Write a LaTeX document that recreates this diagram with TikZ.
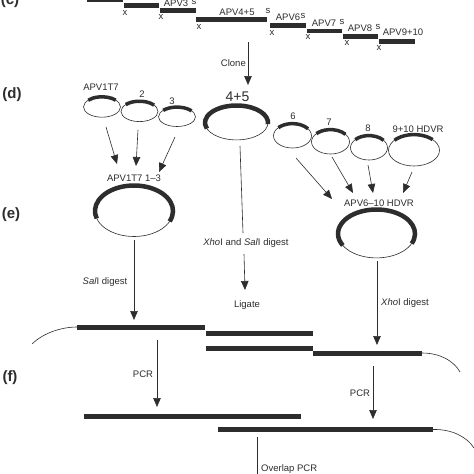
\documentclass[tikz,border=0pt]{standalone}
\usepackage{fontspec}
\setmainfont{Liberation Sans}
\usetikzlibrary{arrows.meta,shapes.geometric}
\definecolor{ink}{RGB}{45,45,45}
\tikzset{
 lab/.style={font=\fontsize{9.5}{11}\selectfont, inner sep=0pt, text=ink},
 biglab/.style={font=\fontsize{14}{16}\selectfont, inner sep=0pt, text=ink},
 panel/.style={font=\fontsize{15}{17}\selectfont\bfseries, inner sep=0pt, text=ink},
 bar/.style={fill=ink, inner sep=0pt, outer sep=0pt, minimum height=4.7pt, draw=none},
 plas/.style={ellipse, draw=ink, line width=0.6pt, inner sep=0pt, outer sep=0pt},
 conn/.style={draw=ink, line width=0.6pt},
 arr/.style={conn, -{Triangle[length=9pt,width=7.5pt]}},
}
\newcommand\myplasmid[8]{%
  \node[plas, minimum width=#4*2pt, minimum height=#5*2pt] (#1) at (#2,#3) {};
  \draw[ink, line width=#8pt] (#1.center) ++(#6:#4pt and #5pt) arc[start angle=#6, end angle=#7, x radius=#4pt, y radius=#5pt];
}
\begin{document}
\begin{tikzpicture}[x=1pt,y=-1pt]
\useasboundingbox (0,0) rectangle (474,474);
\clip (0,0) rectangle (474,474);
\fill[white] (0,0) rectangle (474,474);

% panel labels
\node[panel] (lc) at (10,1) {(c)};
\node[panel] (ld) at (12,95) {(d)};
\node[panel] (le) at (11,215) {(e)};
\node[panel] (lf) at (10,378) {(f)};

% (c) fragments
\node[bar, minimum width=36pt] (bA) at (105,-0.5) {};
\node[bar, minimum width=35pt] (bB) at (141.5,5.7) {};
\node[bar, minimum width=36pt] (bC) at (178,10.3) {};
\node[bar, minimum width=71pt] (bD) at (231.5,19.7) {};
\node[bar, minimum width=36pt] (bE) at (288,25.7) {};
\node[bar, minimum width=35pt] (bF) at (324.5,31) {};
\node[bar, minimum width=35pt] (bG) at (360.5,36.3) {};
\node[bar, minimum width=36pt] (bH) at (397,41.5) {};

\node[lab] (tC) at (176,3) {APV3};
\node[lab] (sC) at (194,2) {s};
\node[lab] (tD) at (237,12) {APV4+5};
\node[lab] (sD) at (268,11) {s};
\node[lab] (tE) at (288,17) {APV6};
\node[lab] (sE) at (303,16) {s};
\node[lab] (tF) at (324,23) {APV7};
\node[lab] (sF) at (342,22) {s};
\node[lab] (tG) at (360,28) {APV8};
\node[lab] (sG) at (378,27) {s};
\node[lab] (tH) at (403,32) {APV9+10};

\node[lab] (x1) at (125,12.5) {x};
\node[lab] (x2) at (161,16.5) {x};
\node[lab] (x3) at (199,27) {x};
\node[lab] (x4) at (272,33) {x};
\node[lab] (x5) at (308,37) {x};
\node[lab] (x6) at (347,43) {x};
\node[lab] (x7) at (379,48) {x};

% clone arrow
\coordinate (cl1) at (248,42);
\coordinate (cl2) at (248,85);
\draw[arr] (cl1) -- (cl2);
\node[lab, anchor=east] (tClone) at (246,63) {Clone};

% (d) plasmids
\myplasmid{p1}{102}{107}{18.5}{10.2}{42}{138}{3.5}
\myplasmid{p2}{139.5}{111.4}{18.5}{10.2}{38}{138}{3.5}
\myplasmid{p3}{177}{116.8}{18.5}{9.7}{38}{138}{3.5}
\myplasmid{p45}{236.5}{122.7}{31.5}{17.2}{-5}{200}{4.5}
\myplasmid{p6}{292.5}{135.8}{19}{12.2}{35}{138}{3.5}
\myplasmid{p7}{330.5}{141.8}{19}{12.2}{38}{138}{3.5}
\myplasmid{p8}{369}{147.8}{18.5}{12.2}{38}{138}{3.5}
\myplasmid{p910}{414}{150.3}{25.5}{15.7}{43}{140}{3.5}

\node[lab] (tp1) at (101,87) {APV1T7};
\node[lab] (tp2) at (142,94) {2};
\node[lab] (tp3) at (172,101) {3};
\node[biglab] (tp45) at (237.5,97) {4+5};
\node[lab] (tp6) at (293,116) {6};
\node[lab] (tp7) at (329,122) {7};
\node[lab] (tp8) at (368,128) {8};
\node[lab] (tp910) at (418,129) {9+10 HDVR};

% (e) combined plasmids
\myplasmid{pL}{134}{211}{39}{25.5}{-24}{197}{4.5}
\myplasmid{pR}{376.5}{233.7}{38.5}{24.2}{-24}{209}{4.5}
\node[lab] (tpL) at (134,178) {APV1T7 1--3};
\node[lab] (tpR) at (379,203) {APV6--10 HDVR};

% arrows into combined plasmids
\coordinate (a1s) at (106,127); \coordinate (a1e) at (117,164);
\coordinate (a2s) at (138,130); \coordinate (a2e) at (136,166);
\coordinate (a3s) at (175,137); \coordinate (a3e) at (159,172);
\draw[arr] (a1s) -- (a1e);
\draw[arr] (a2s) -- (a2e);
\draw[arr] (a3s) -- (a3e);
\coordinate (b1s) at (296,158); \coordinate (b1e) at (332,199);
\coordinate (b2s) at (332,157); \coordinate (b2e) at (353,193);
\coordinate (b3s) at (368,165); \coordinate (b3e) at (373,193);
\coordinate (b4s) at (412,172); \coordinate (b4e) at (403,193);
\draw[arr] (b1s) -- (b1e);
\draw[arr] (b2s) -- (b2e);
\draw[arr] (b3s) -- (b3e);
\draw[arr] (b4s) -- (b4e);

% 4+5 digest and ligate
\coordinate (m1) at (240,146);
\coordinate (m2) at (243,233);
\coordinate (m3) at (244,254);
\coordinate (m4) at (245,290);
\draw[conn] (m1) -- (m2);
\draw[arr] (m3) -- (m4);
\node[lab] (tXS) at (246,243) {\textit{Xho}I and \textit{Sal}I digest};
\node[lab] (tLig) at (247,305) {Ligate};

% SalI digest
\coordinate (s1) at (134,240);
\coordinate (s2) at (134,320);
\draw[arr] (s1) -- (s2);
\node[lab] (tSal) at (105,282) {\textit{Sal}I digest};

% XhoI digest
\coordinate (h1) at (377,261);
\coordinate (h2) at (377,345);
\draw[arr] (h1) -- (h2);
\node[lab] (tXho) at (405,303) {\textit{Xho}I digest};

% (f) fragments
\node[bar, minimum width=128pt, minimum height=5pt] (fL) at (141,327) {};
\node[bar, minimum width=107pt, minimum height=5pt] (fM1) at (259.5,333.5) {};
\node[bar, minimum width=107pt, minimum height=5pt] (fM2) at (259.5,348) {};
\node[bar, minimum width=109pt, minimum height=5pt] (fR) at (367.5,353) {};
\coordinate (cL) at (32,344);
\coordinate (cR) at (460,372);
\draw[conn] (fL.west) .. controls (60,327) and (42,334) .. (cL);
\draw[conn] (fR.east) .. controls (440,353) and (454,361) .. (cR);

% PCR arrows
\coordinate (q1) at (157,340);
\coordinate (q2) at (157,407);
\draw[arr] (q1) -- (q2);
\node[lab] (tPCR1) at (143,374) {PCR};
\coordinate (r1) at (373,366);
\coordinate (r2) at (373,419);
\draw[arr] (r1) -- (r2);
\node[lab] (tPCR2) at (360,393) {PCR};

% PCR products
\node[bar, minimum width=217pt, minimum height=5pt] (g1) at (192.5,416.5) {};
\node[bar, minimum width=215pt, minimum height=5pt] (g2) at (325.5,429.5) {};
\coordinate (cB) at (474,448);
\draw[conn] (g2.east) .. controls (452,429) and (467,437) .. (cB);

% overlap PCR
\coordinate (o1) at (257,437);
\coordinate (o2) at (257,480);
\draw[conn] (o1) -- (o2);
\node[lab, anchor=west] (tOv) at (261,469) {Overlap PCR};
\end{tikzpicture}
\end{document}
